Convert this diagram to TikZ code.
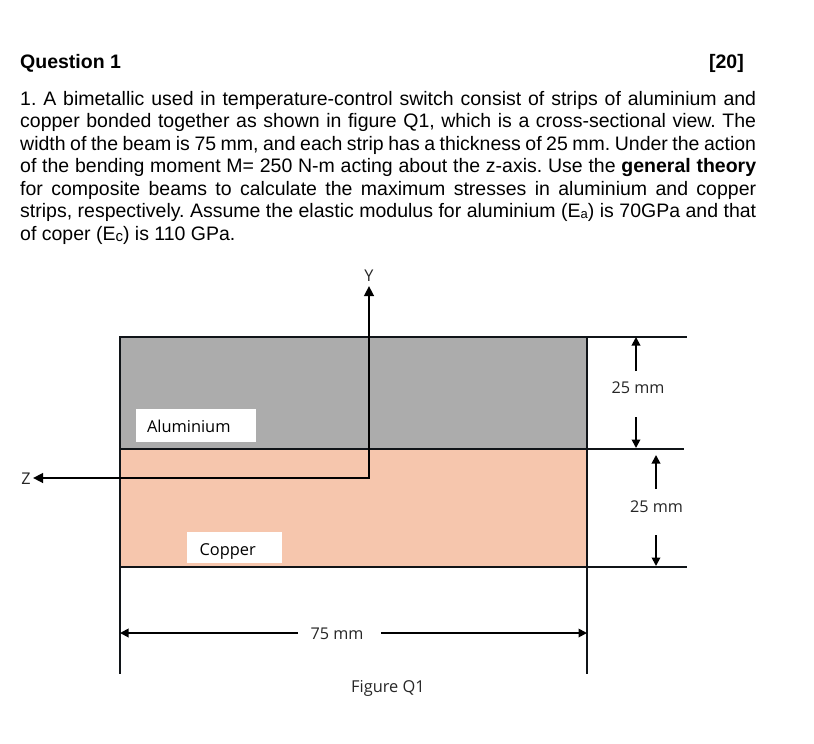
\documentclass[tikz,border=0pt]{standalone}
\usepackage{fontspec}
\setmainfont{Liberation Sans}
\newfontfamily\figfont{Open Sans}
\usetikzlibrary{positioning,arrows.meta}
\definecolor{aluminiumgray}{HTML}{ACACAC}
\definecolor{copperpink}{HTML}{F6C6AD}
\definecolor{linedark}{HTML}{101418}
\tikzset{
  strip/.style={draw=linedark, line width=1.3pt, inner sep=0pt, outer sep=0pt, minimum width=467pt, anchor=north west},
  tag/.style={fill=white, inner sep=0pt, outer sep=0pt, text depth=0pt, align=left, font=\figfont\fontsize{16.4}{18}\selectfont},
  dimlabel/.style={inner sep=0pt, font=\figfont\fontsize{16.2}{18}\selectfont, text=black!85},
  guide/.style={draw=linedark, line width=1.5pt},
  dimarrow/.style={-{Triangle[length=8.5pt,width=8.5pt]}, line width=1.8pt, black},
  axisline/.style={{Triangle[length=10pt,width=9.5pt]}-{Triangle[length=10pt,width=9.5pt]}, line width=2.7pt, black}
}
\begin{document}
\begin{tikzpicture}[x=1pt, y=-1pt]
  \useasboundingbox (0,0) rectangle (814,744);

  % Heading
  \node[anchor=base west, inner sep=0pt, font=\bfseries\fontsize{19.5}{22}\selectfont] (question) at (20,68) {Question 1};
  \node[anchor=base east, inner sep=0pt, font=\bfseries\fontsize{19.5}{22}\selectfont] (marks) at (744,68) {[20]};

  % Statement
  \node[anchor=north west, inner sep=0pt, text width=736pt, align=justify, font=\fontsize{19.5}{22.5}\selectfont] (statement) at (20,91) {\frenchspacing
    1. A bimetallic used in temperature-control switch consist of strips of aluminium and\linebreak
    copper bonded together as shown in figure Q1, which is a cross-sectional view. The\linebreak
    width of the beam is 75 mm, and each strip has a thickness of 25 mm. Under the action\linebreak
    of the bending moment M= 250 N-m acting about the z-axis. Use the \textbf{general theory}\linebreak
    for composite beams to calculate the maximum stresses in aluminium and copper\linebreak
    strips, respectively. Assume the elastic modulus for aluminium (E\raisebox{-1pt}{\fontsize{13}{13}\selectfont a}) is 70GPa and that\linebreak
    of coper (E\raisebox{-1pt}{\fontsize{15}{15}\selectfont c}) is 110 GPa.};

  % Strips
  \node[strip, fill=aluminiumgray, minimum height=112pt] (aluminium) at (120,337) {};
  \node[strip, fill=copperpink, minimum height=118pt, below=0pt of aluminium.south west, anchor=north west] (copper) {};

  % Labels on the strips
  \node[tag, minimum width=120.5pt, minimum height=32.5pt, text width=98pt, text height=14pt] (altag) at (196,425.3) {Aluminium};
  \node[tag, minimum width=95pt, minimum height=30.5pt, text width=70pt, text height=16pt] (cutag) at (234.5,547.3) {Copper};

  % Guides
  \coordinate (topend) at (687,337);
  \coordinate (midend) at (684,449);
  \coordinate (lowend) at (687,567);
  \coordinate (leftend) at (120,674);
  \coordinate (rightend) at (587,674);
  \draw[guide] (aluminium.north east) -- (topend);
  \draw[guide] (aluminium.south east) -- (midend);
  \draw[guide] (copper.south east) -- (lowend);
  \draw[guide] (copper.south west) -- (leftend);
  \draw[guide] (copper.south east) -- (rightend);

  % Axes
  \node[dimlabel] (ylabel) at (369,275.5) {Y};
  \node[dimlabel] (zlabel) at (26,478.5) {Z};
  \coordinate (ytip) at (369,286);
  \coordinate (origin) at (369,478);
  \coordinate (ztip) at (33,478);
  \draw[axisline] (ytip) -- (origin) -- (ztip);

  % Upper dimension
  \node[dimlabel] (upperdim) at (638,388) {25 mm};
  \coordinate (uppertop) at (636,337);
  \coordinate (upperlow) at (636,448);
  \draw[dimarrow] (636,371) -- (uppertop);
  \draw[dimarrow] (636,417) -- (upperlow);

  % Lower dimension
  \node[dimlabel] (lowerdim) at (656.5,507) {25 mm};
  \coordinate (lowertop) at (656,455);
  \coordinate (lowerlow) at (656,566);
  \draw[dimarrow] (656,489) -- (lowertop);
  \draw[dimarrow] (656,535) -- (lowerlow);

  % Width dimension
  \node[dimlabel] (widthdim) at (337,634) {75 mm};
  \coordinate (widthleft) at (120,633);
  \coordinate (widthright) at (587,633);
  \draw[dimarrow] (298,633) -- (widthleft);
  \draw[dimarrow] (381,633) -- (widthright);

  % Caption
  \node[dimlabel, font=\figfont\fontsize{16.4}{18}\selectfont] (caption) at (388,688) {Figure Q1};
\end{tikzpicture}
\end{document}
